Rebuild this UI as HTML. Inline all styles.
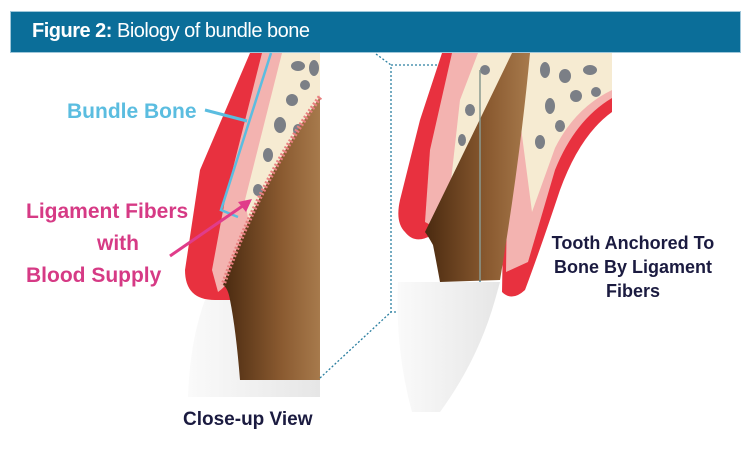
<!DOCTYPE html>
<html><head><meta charset="utf-8"><style>
html,body{margin:0;padding:0;background:#fff;}
body{width:745px;height:465px;overflow:hidden;position:relative;font-family:"Liberation Sans",Arial,sans-serif;}
.hdr{position:absolute;left:10px;top:11px;width:729px;height:40px;background:#0b6e99;border:1px solid #9fc7da;}
.hdr span{position:absolute;left:21px;top:8px;color:#fff;font-size:20px;letter-spacing:-0.5px;}
.t{position:absolute;font-weight:bold;white-space:nowrap;}
</style></head><body>
<div class="hdr"><span><b>Figure 2:</b> Biology of bundle bone</span></div>
<svg width="745" height="465" style="position:absolute;left:0;top:0">
<defs>
<linearGradient id="br" x1="0" x2="1"><stop offset="0" stop-color="#4a2a10"/><stop offset="0.6" stop-color="#8a5a30"/><stop offset="1" stop-color="#a77a4c"/></linearGradient>
<linearGradient id="gr" x1="0" x2="1"><stop offset="0" stop-color="#fafafa"/><stop offset="1" stop-color="#e6e6e6"/></linearGradient>
</defs>
<!-- LEFT -->
<path d="M205,300 L320,300 L320,397 L188,397 Q190,340 205,300 Z" fill="url(#gr)"/>
<path d="M250,53 L320,53 L320,300 L215,300 Q185,300 185,270 L200,170 Z" fill="#e8313f"/>
<path d="M262,53 L320,53 L320,110 L240,260 Q232,282 218,292 L212,270 L225,200 Z" fill="#f3b3b0"/>
<path d="M282,53 L320,53 L320,95 L250,230 L245,200 Z" fill="#f6ebd2"/>
<g fill="#7b7f86"><ellipse cx="298" cy="66" rx="7" ry="5"/><ellipse cx="314" cy="68" rx="5" ry="8"/><ellipse cx="292" cy="100" rx="6" ry="6"/><ellipse cx="280" cy="125" rx="6" ry="8"/><ellipse cx="268" cy="155" rx="5" ry="7"/><ellipse cx="258" cy="190" rx="5" ry="6"/><ellipse cx="305" cy="85" rx="5" ry="5"/><ellipse cx="298" cy="130" rx="5" ry="6"/></g>
<path d="M320,97 L320,380 L240,380 Q236,330 230,300 Q228,288 223,285 Q260,180 320,97 Z" fill="url(#br)"/>
<path d="M320,97 Q260,180 223,285" stroke="#e88080" stroke-width="5" fill="none" stroke-dasharray="2 2"/>
<polyline points="271,53 221,210 238,217" fill="none" stroke="#5bbde0" stroke-width="2.5"/>
<line x1="205" y1="110" x2="247" y2="121" stroke="#5bbde0" stroke-width="3"/>
<line x1="170" y1="256" x2="244" y2="205" stroke="#e03c8a" stroke-width="3"/>
<polygon points="252,199 238,202 246,212" fill="#e03c8a"/>
<!-- dotted -->
<g stroke="#2b7fa0" stroke-width="1.3" fill="none" stroke-dasharray="2 2">
<rect x="391" y="65" width="89" height="247"/>
<line x1="376" y1="54" x2="391" y2="65"/>
<line x1="320" y1="378" x2="391" y2="312"/>
</g>
<!-- RIGHT -->
<path d="M398,282 L500,282 L495,300 Q478,360 440,412 L412,412 Q395,350 398,282 Z" fill="url(#gr)"/>
<path d="M442,53 L478,53 L470,150 L432,235 Q415,245 405,232 Q395,222 400,200 L420,120 Z" fill="#e8313f"/>
<path d="M452,53 L508,53 L440,230 L425,222 L430,150 Z" fill="#f3b3b0"/>
<path d="M478,53 L512,53 L450,190 L460,100 Z" fill="#f6ebd2"/>
<path d="M530,53 L612,53 L612,112 Q580,135 560,190 Q540,250 525,290 Q512,302 502,292 L505,130 Z" fill="#e8313f"/>
<path d="M530,53 L612,53 L612,98 Q575,120 555,170 L528,262 L506,272 L508,130 Z" fill="#f3b3b0"/>
<path d="M530,53 L612,53 L612,90 Q575,108 555,148 L532,212 L520,120 Z" fill="#f6ebd2"/>
<g fill="#7b7f86"><ellipse cx="545" cy="70" rx="5" ry="8"/><ellipse cx="565" cy="76" rx="6" ry="7"/><ellipse cx="590" cy="70" rx="7" ry="5"/><ellipse cx="576" cy="96" rx="6" ry="6"/><ellipse cx="550" cy="106" rx="5" ry="8"/><ellipse cx="596" cy="92" rx="5" ry="5"/><ellipse cx="560" cy="126" rx="5" ry="6"/><ellipse cx="540" cy="142" rx="5" ry="7"/><ellipse cx="485" cy="70" rx="5" ry="5"/><ellipse cx="470" cy="110" rx="5" ry="6"/><ellipse cx="462" cy="140" rx="4" ry="6"/></g>
<path d="M512,53 L530,53 Q520,160 500,280 L440,282 Q436,260 433,245 Q428,236 425,232 Q470,140 512,53 Z" fill="url(#br)"/>
<line x1="480" y1="70" x2="480" y2="280" stroke="#8a9a90" stroke-width="1.5"/>
</svg>
<div class="t" style="left:67px;top:100px;font-size:21px;color:#5bbde0">Bundle Bone</div>
<div class="t" style="left:26px;top:200px;font-size:21px;color:#d63a85">Ligament Fibers</div>
<div class="t" style="left:97px;top:232px;font-size:21px;color:#d63a85">with</div>
<div class="t" style="left:26px;top:264px;font-size:21px;color:#d63a85">Blood Supply</div>
<div class="t" style="left:183px;top:409px;font-size:19px;color:#1b1b40">Close-up View</div>
<div class="t" style="left:530px;top:231px;width:206px;text-align:center;font-size:18px;line-height:24px;color:#1b1b40">Tooth Anchored To<br>Bone By Ligament<br>Fibers</div>
</body></html>
